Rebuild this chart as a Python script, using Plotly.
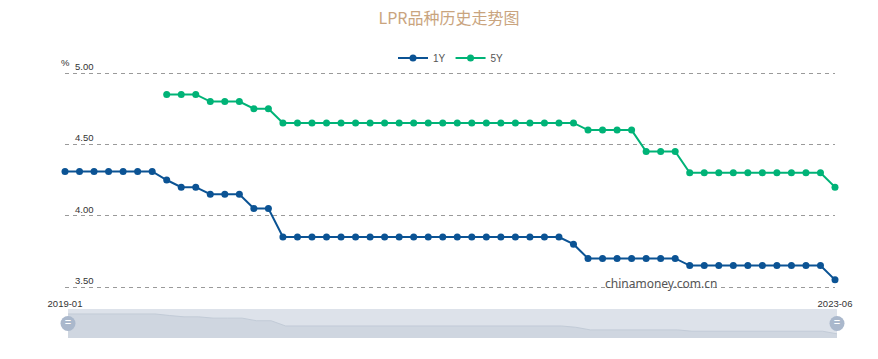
import plotly.graph_objects as go

W, H = 878, 359

months = [f"{y}-{m:02d}" for y in range(2019, 2024) for m in range(1, 13)]
months = months[: months.index("2023-06") + 1]

lpr_1y = [4.31, 4.31, 4.31, 4.31, 4.31, 4.31, 4.31, 4.25, 4.20, 4.20, 4.15, 4.15,
          4.15, 4.05, 4.05, 3.85, 3.85, 3.85, 3.85, 3.85, 3.85, 3.85, 3.85, 3.85,
          3.85, 3.85, 3.85, 3.85, 3.85, 3.85, 3.85, 3.85, 3.85, 3.85, 3.85, 3.80,
          3.70, 3.70, 3.70, 3.70, 3.70, 3.70, 3.70, 3.65, 3.65, 3.65, 3.65, 3.65,
          3.65, 3.65, 3.65, 3.65, 3.65, 3.55]
lpr_5y = [None, None, None, None, None, None, None, 4.85, 4.85, 4.85, 4.80, 4.80,
          4.80, 4.75, 4.75, 4.65, 4.65, 4.65, 4.65, 4.65, 4.65, 4.65, 4.65, 4.65,
          4.65, 4.65, 4.65, 4.65, 4.65, 4.65, 4.65, 4.65, 4.65, 4.65, 4.65, 4.65,
          4.60, 4.60, 4.60, 4.60, 4.45, 4.45, 4.45, 4.30, 4.30, 4.30, 4.30, 4.30,
          4.30, 4.30, 4.30, 4.30, 4.30, 4.20]
y_ticks = [3.50, 4.00, 4.50, 5.00]
x_tick_labels = [months[0], months[-1]]

C1 = "#0b5394"
C5 = "#00b377"
LBL = "Liberation Sans, Arial, sans-serif"
TICK_SIZE = 9.5

def px_x(p):
    return p / W

def px_y(p):
    return 1 - p / H

fig = go.Figure()
fig.add_trace(go.Scatter(x=months, y=lpr_1y, name="1Y", mode="lines+markers",
                         line=dict(color=C1, width=2), marker=dict(size=7, color=C1),
                         cliponaxis=False))
fig.add_trace(go.Scatter(x=months, y=lpr_5y, name="5Y", mode="lines+markers",
                         line=dict(color=C5, width=2), marker=dict(size=7, color=C5),
                         cliponaxis=False))

# data-zoom style overview
slider_range = [3.39, 4.50]
fig.add_trace(go.Scatter(x=months, y=lpr_1y, xaxis="x2", yaxis="y2", mode="lines",
                         fill="tozeroy", fillcolor="#cfd6e0",
                         line=dict(color="#c2cbd7", width=1),
                         showlegend=False, hoverinfo="skip"))
mid = sum(slider_range) / 2
fig.add_trace(go.Scatter(x=[months[0], months[-1]], y=[mid, mid], xaxis="x2", yaxis="y2",
                         mode="markers+text", text=["=", "="], textposition="middle center",
                         textfont=dict(color="white", size=11, family=LBL),
                         marker=dict(size=15, color="#aab8cc"),
                         cliponaxis=False, showlegend=False, hoverinfo="skip"))

# main plot area 73..287 px for 5.00..3.50; pad a few px so edge gridlines are drawn
top_px, bot_px, pad_px = 73, 287, 4
per_px = (5.00 - 3.50) / (bot_px - top_px)
y_lo = 3.50 - pad_px * per_px
y_hi = 5.00 + pad_px * per_px

tick_annots = [dict(text=f"{v:.2f}", xref="paper", yref="y", x=px_x(73), y=v,
                    xanchor="left", yanchor="bottom", yshift=-1, showarrow=False,
                    font=dict(family=LBL, size=TICK_SIZE, color="#333")) for v in y_ticks]

fig.update_layout(
    width=W, height=H,
    margin=dict(l=0, r=0, t=0, b=0),
    paper_bgcolor="white", plot_bgcolor="white",
    title=dict(text="LPR品种历史走势图", x=px_x(449), xanchor="center", xref="container",
               y=px_y(18), yanchor="middle", yref="container",
               font=dict(family="Noto Sans CJK SC, sans-serif", size=16, color="#c9a47e")),
    legend=dict(orientation="h", x=px_x(451), xanchor="center", y=px_y(58), yanchor="middle",
                font=dict(family=LBL, size=10, color="#555"), itemwidth=30,
                bgcolor="rgba(0,0,0,0)"),
    xaxis=dict(domain=[px_x(65), px_x(835)], range=[0, len(months) - 1],
               type="category", showgrid=False, zeroline=False, showline=False,
               tickmode="array", tickvals=x_tick_labels, ticktext=x_tick_labels,
               ticks="", ticklabelstandoff=pad_px + 1,
               tickfont=dict(family=LBL, size=TICK_SIZE, color="#333"),
               automargin=False, fixedrange=True),
    yaxis=dict(domain=[px_y(bot_px + pad_px), px_y(top_px - pad_px)], range=[y_lo, y_hi],
               tickmode="array", tickvals=y_ticks, showticklabels=False, ticks="",
               showgrid=True, gridcolor="#9a9a9a", griddash="4px,4px", gridwidth=1,
               zeroline=False, showline=False, automargin=False, fixedrange=True),
    xaxis2=dict(domain=[px_x(68), px_x(837)], range=[0, len(months) - 1], type="category",
                anchor="y2", visible=False, fixedrange=True),
    yaxis2=dict(domain=[px_y(338), px_y(309)], range=slider_range, anchor="x2",
                visible=False, fixedrange=True),
    shapes=[dict(type="rect", xref="x2 domain", yref="y2 domain", x0=0, x1=1, y0=0, y1=1,
                 fillcolor="#dde2ea", line=dict(width=0), layer="below")],
    annotations=tick_annots + [
        dict(text="%", xref="paper", yref="paper", x=px_x(65), y=px_y(62),
             xanchor="center", yanchor="middle",
             showarrow=False, font=dict(family=LBL, size=TICK_SIZE, color="#333")),
        dict(text="chinamoney.com.cn", xref="paper", yref="paper", x=px_x(661), y=px_y(283),
             xanchor="center", yanchor="middle",
             showarrow=False, font=dict(family="Noto Sans, sans-serif", size=12, color="#555")),
    ],
)

fig.write_html("out.html", config={"displayModeBar": False},
               post_script="document.body.style.margin='0';")
